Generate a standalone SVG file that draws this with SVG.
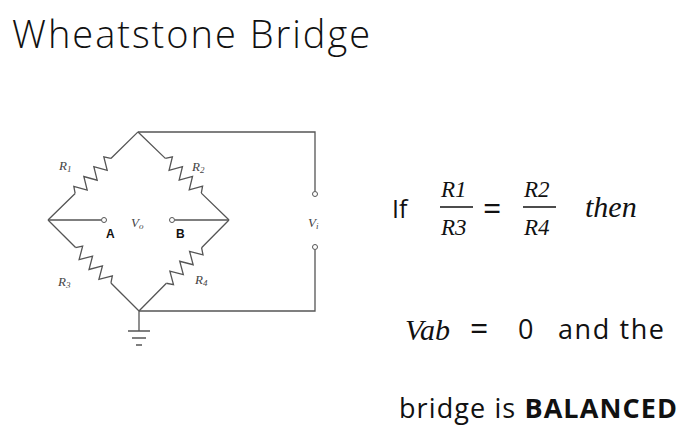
<svg xmlns="http://www.w3.org/2000/svg" width="700" height="447" viewBox="0 0 700 447">
<style>
.w{fill:none;stroke:#555;stroke-width:1.3}
.lbl{font-family:"Liberation Serif",serif;font-style:italic;font-size:13px;fill:#444}
.t{font-family:"Open Sans","Liberation Sans",sans-serif;fill:#111}
.m{font-family:"Liberation Serif",serif;font-style:italic;fill:#111}
</style>
<defs>
<path id="zz" d="M-25,0 L-21,-6 L-14,6 L-7,-6 L0,6 L7,-6 L14,6 L21,-6 L25,0"/>
</defs>
<rect width="700" height="447" fill="#fff"/>
<text class="t" x="12" y="48" font-size="38" textLength="358" font-weight="300">Wheatstone Bridge</text>
<g id="connectors">
<path class="w" d="M138,132 H315 V191"/>
<path class="w" d="M315,250 V311 H139 V331"/>
<path class="w" d="M48,220 H101 M175,220 H229"/>
<path class="w" d="M128,331 H150 M132,338 H146 M136,345 H142"/>
</g>
<g id="R1" transform="translate(48,220) rotate(-44.4)">
<path class="w" d="M0,0 H38 M88,0 H126"/><use href="#zz" x="63" class="w"/>
</g>
<g id="R2" transform="translate(138,132) rotate(44)">
<path class="w" d="M0,0 H38 M88,0 H126.6"/><use href="#zz" x="63" class="w"/>
</g>
<g id="R3" transform="translate(48,220) rotate(45)">
<path class="w" d="M0,0 H39 M89,0 H128.7"/><use href="#zz" x="64" class="w"/>
</g>
<g id="R4" transform="translate(229,220) rotate(134.7)">
<path class="w" d="M0,0 H39 M89,0 H128"/><use href="#zz" x="64" class="w"/>
</g>
<g id="terminals" fill="#fff" stroke="#555" stroke-width="1">
<circle cx="104" cy="220" r="2.5"/><circle cx="172" cy="220" r="2.5"/>
<circle cx="315" cy="194" r="2.5"/><circle cx="315" cy="247" r="2.5"/>
</g>
<g id="labels">
<text class="lbl" x="59" y="170">R<tspan font-size="9" dy="2">1</tspan></text>
<text class="lbl" x="192" y="171">R<tspan font-size="9" dy="2">2</tspan></text>
<text class="lbl" x="58" y="286">R<tspan font-size="9" dy="2">3</tspan></text>
<text class="lbl" x="195" y="284">R<tspan font-size="9" dy="2">4</tspan></text>
<text class="lbl" x="308" y="227">V<tspan font-size="9" dy="2">i</tspan></text>
<text class="lbl" x="131" y="227">V<tspan font-size="9" dy="2">o</tspan></text>
<text font-family="Liberation Sans,sans-serif" font-weight="bold" font-size="12" x="106" y="238" fill="#111">A</text>
<text font-family="Liberation Sans,sans-serif" font-weight="bold" font-size="12" x="176" y="238" fill="#111">B</text>
</g>
<g id="formula">
<text class="t" x="392" y="218" font-size="25">If</text>
<text class="m" x="441" y="197" font-size="23">R1</text>
<line x1="440" y1="207" x2="473" y2="207" stroke="#111" stroke-width="1.5"/>
<text class="m" x="441" y="235" font-size="23">R3</text>
<text class="t" x="483" y="220" font-size="32">=</text>
<text class="m" x="524" y="197" font-size="23">R2</text>
<line x1="523" y1="207" x2="556" y2="207" stroke="#111" stroke-width="1.5"/>
<text class="m" x="524" y="235" font-size="23">R4</text>
<text class="m" x="585" y="217" font-size="30">then</text>
<text class="m" x="405" y="340" font-size="30">Vab</text>
<text class="t" x="470" y="340" font-size="32">=</text>
<text class="t" x="518" y="339" font-size="27">0</text>
<text class="t" x="558" y="339" font-size="27" textLength="106">and the</text>
<text class="t" x="399" y="418" font-size="27" textLength="278">bridge is <tspan font-weight="bold">BALANCED</tspan></text>
</g>
</svg>
